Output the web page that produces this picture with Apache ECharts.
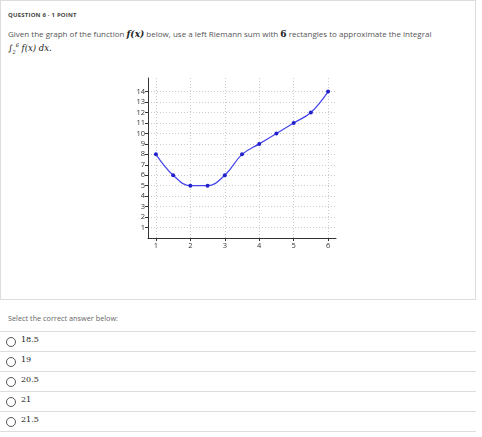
<!DOCTYPE html>
<html><head><meta charset="utf-8">
<script src="https://cdn.jsdelivr.net/npm/echarts@6/dist/echarts.min.js"></script>
<style>
body{margin:0;width:482px;height:437px;background:#fff;font-family:"Open Sans",sans-serif;position:relative;overflow:hidden}
.card{position:absolute;left:0;top:0;width:476px;height:300px;border:1px solid #ddd;box-sizing:border-box}
.q{position:absolute;left:8px;top:11px;font-size:6px;font-weight:bold;color:#444;letter-spacing:.2px}
.t{position:absolute;left:8px;top:28px;font-size:8px;color:#555;white-space:nowrap}
.t2{position:absolute;left:8px;top:42px;font-size:8.5px;color:#222;font-family:"DejaVu Serif",serif;font-style:italic}
#c{position:absolute;left:0;top:0;width:482px;height:300px}
.sel{position:absolute;left:8px;top:313px;font-size:7.3px;color:#666}
.opt{position:absolute;left:0;width:476px;height:20px;border-top:1px solid #ddd;box-sizing:border-box;font-family:"DejaVu Serif",serif;font-size:8px;color:#222}
.opt span.r{position:absolute;left:6px;top:5px;width:8px;height:8px;border:1px solid #555;border-radius:50%}
.opt span.l{position:absolute;left:21px;top:3px}
</style></head><body>
<div class="card"></div>
<div class="q">QUESTION 6 · 1 POINT</div>
<div class="t">Given the graph of the function <b style="font-family:'DejaVu Serif';font-style:italic;font-size:9px;color:#222">f(x)</b> below, use a left Riemann sum with <b style="font-family:'DejaVu Serif';font-size:9px;color:#222">6</b> rectangles to approximate the integral</div>
<div class="t2">∫<sub style="font-size:5px">2</sub><sup style="font-size:5px">6</sup> f(x) dx.</div>
<div id="c"></div>
<div class="sel">Select the correct answer below:</div>
<div id="opts"></div>
<script>
const xValues=[1,1.5,2,2.5,3,3.5,4,4.5,5,5.5,6];
const yValues=[8,6,5,5,6,8,9,10,11,12,14];
const xTicks=[1,2,3,4,5,6];
const yTicks=[1,2,3,4,5,6,7,8,9,10,11,12,13,14];
const answers=["18.5","19","20.5","21","21.5"];
let h='';answers.forEach((a,i)=>{h+=`<div class="opt" style="top:${331+i*20}px"><span class="r"></span><span class="l">${a}</span></div>`});
h+=`<div class="opt" style="top:431px"></div>`;
document.getElementById('opts').innerHTML=h;
const chart=echarts.init(document.getElementById('c'));
const sl={show:true,lineStyle:{color:'#ccc',type:[1,2],width:1}};
chart.setOption({animation:false,
grid:{left:148,top:78,width:188,height:160},
xAxis:{type:'value',min:0.77,max:6.23,
 axisLine:{onZero:false,lineStyle:{color:'#333'}},
 axisTick:{show:true,customValues:xTicks,length:3,lineStyle:{color:'#333'}},
 axisLabel:{customValues:xTicks,fontSize:7.5,color:'#333',margin:4,rotate:0,hideOverlap:false,fontFamily:'Open Sans'},
 splitLine:sl},
yAxis:{type:'value',min:0,max:15.3,
 axisLine:{show:true,lineStyle:{color:'#333'}},
 axisTick:{show:true,customValues:yTicks,length:3,lineStyle:{color:'#333'}},
 axisLabel:{customValues:yTicks,fontSize:7.5,color:'#333',margin:3,fontFamily:'Open Sans'},
 splitLine:sl},
series:[{type:'line',smooth:0.4,data:xValues.map((x,i)=>[x,yValues[i]]),
 lineStyle:{color:'#4444ee',width:1.2},itemStyle:{color:'#2222cc'},symbol:'circle',symbolSize:4}]
});
</script></body></html>
